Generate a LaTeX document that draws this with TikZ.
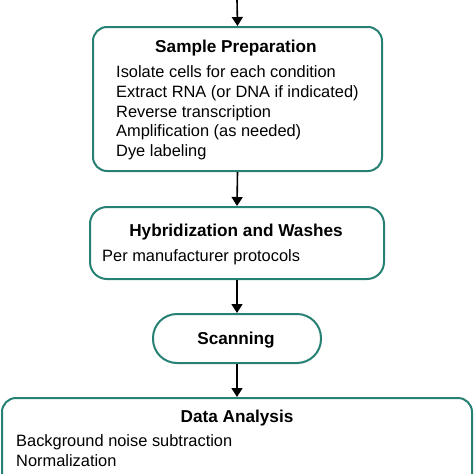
\documentclass[tikz,border=0pt]{standalone}
\usepackage{fontspec}
\setmainfont{Liberation Sans}
\usetikzlibrary{arrows.meta}
\definecolor{teal1}{RGB}{38,128,116}
\begin{document}
\begin{tikzpicture}[x=1pt,y=-1pt,
  box/.style={draw=teal1,line width=2pt,rounded corners=14pt,fill=white,inner sep=0pt},
  title/.style={font=\fontsize{17.2}{20}\selectfont\bfseries,inner sep=0pt,anchor=base},
  body/.style={font=\fontsize{16.4}{19.7}\selectfont,inner sep=0pt,anchor=base west},
  arr/.style={line width=1.6pt,-{Triangle[width=11pt,length=9pt]}}]
\useasboundingbox (0,0) rectangle (474,474);
\clip (0,0) rectangle (474,474);
% boxes
\node[box,minimum width=289pt,minimum height=144pt] (prep) at (237.5,99) {};
\node[box,minimum width=294pt,minimum height=72pt,rounded corners=17pt] (hyb) at (237,243) {};
\node[box,minimum width=168pt,minimum height=49pt,rounded corners=24pt] (scan) at (237,338.5) {};
\node[box,minimum width=470pt,minimum height=150pt] (data) at (237,473) {};
\coordinate (top) at (237,0);
% texts
\node[title] (t1) at (236,52.7) {Sample Preparation};
\node[body] (b1) at (116,77.5) {Isolate cells for each condition};
\node[body] (b2) at (116,97.3) {Extract RNA (or DNA if indicated)};
\node[body] (b3) at (116,117.1) {Reverse transcription};
\node[body] (b4) at (116,136.9) {Amplification (as needed)};
\node[body] (b5) at (116,156.7) {Dye labeling};
\node[title] (t2) at (236,236.7) {Hybridization and Washes};
\node[body] (b6) at (102,261.7) {Per manufacturer protocols};
\node[title] (t3) at (236,344.3) {Scanning};
\node[title] (t4) at (237,422.3) {Data Analysis};
\node[body] (b7) at (16,446.7) {Background noise subtraction};
\node[body] (b8) at (16,466.7) {Normalization};
% arrows
\draw[arr] (top) -- (prep.north);
\draw[arr] (prep.south) -- (hyb.north);
\draw[arr] (hyb.south) -- (scan.north);
\draw[arr] (scan.south) -- (data.north);
\end{tikzpicture}
\end{document}
